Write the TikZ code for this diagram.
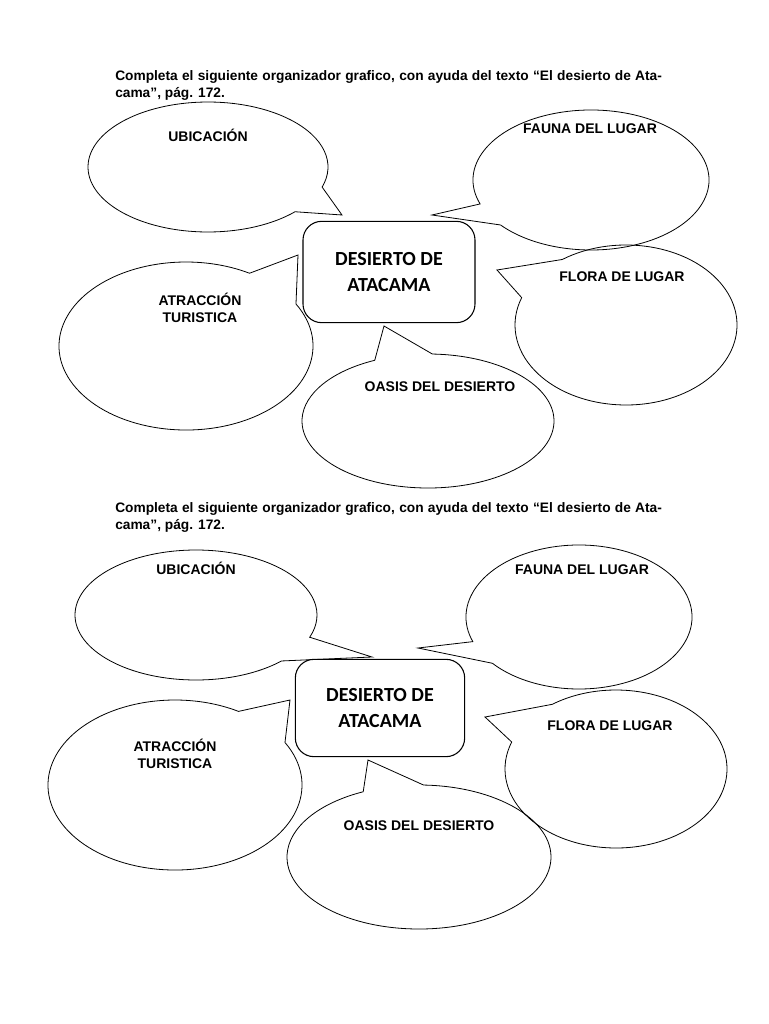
\documentclass[tikz,border=0pt]{standalone}
\usepackage{fontspec}
\setmainfont{Liberation Sans}
\newfontfamily\calfont{Carlito}
\begin{document}
\begin{tikzpicture}[x=0.75pt,y=-0.75pt,
  lab/.style={font=\bfseries\fontsize{10.5}{12.5}\selectfont,align=center,inner sep=0pt},
  ttl/.style={font=\bfseries\fontsize{10.3}{12.8}\selectfont,text width=410pt,align=justify,anchor=north west,inner sep=0pt},
  cbox/.style={draw,fill=white,rounded corners=14pt,line width=0.8pt,font=\calfont\bfseries\fontsize{15}{19}\selectfont,align=center,inner sep=0pt},
  bub/.style={draw,line width=0.6pt}]
\useasboundingbox (0,0) rectangle (768,1024);
\newcommand\bubble[8]{\draw[bub] (#1,#2) ++(#5:#3 and #4) arc[start angle=#5,end angle=#6,x radius=#3,y radius=#4] -- (#7,#8) -- cycle;}
% ---------- top ----------
\node[ttl] (t1) at (115,70) {Completa el siguiente organizador grafico, con ayuda del texto “El desierto de Atacama”, pág. 172.};
\bubble{208}{167}{120}{65}{43.5}{378}{342}{215}
\bubble{591}{180}{118}{70}{160}{500}{432}{215}
\bubble{186}{346}{127}{84}{-30}{300}{298}{255}
\bubble{626}{325}{111}{80}{235}{560}{497}{270}
\bubble{428}{421}{126}{67}{272}{605}{384}{326}
\node[cbox,minimum width=129pt,minimum height=76pt] (c1) at (389,272) {DESIERTO DE\\ATACAMA};
\node[lab] (u1) at (208,135) {UBICACIÓN};
\node[lab] (f1) at (590,129) {FAUNA DEL LUGAR};
\node[lab] (a1) at (200,308) {ATRACCIÓN\\TURISTICA};
\node[lab] (fl1) at (622,277) {FLORA DE LUGAR};
\node[lab] (o1) at (440,387) {OASIS DEL DESIERTO};
% ---------- bottom ----------
\node[ttl] (t2) at (115,502) {Completa el siguiente organizador grafico, con ayuda del texto “El desierto de Atacama”, pág. 172.};
\bubble{196}{615}{121}{65}{45}{380}{372}{657}
\bubble{579}{617}{113}{72}{160}{500}{418}{648}
\bubble{175}{785}{127}{85}{-30}{300}{290}{700}
\bubble{616}{769}{111}{79}{235}{560}{485}{717}
\bubble{419}{857}{132}{72}{272}{605}{368}{760}
\node[cbox,minimum width=127pt,minimum height=73pt] (c2) at (380,708) {DESIERTO DE\\ATACAMA};
\node[lab] (u2) at (196,568) {UBICACIÓN};
\node[lab] (f2) at (582,570) {FAUNA DEL LUGAR};
\node[lab] (a2) at (175,754) {ATRACCIÓN\\TURISTICA};
\node[lab] (fl2) at (610,726) {FLORA DE LUGAR};
\node[lab] (o2) at (419,826) {OASIS DEL DESIERTO};
\end{tikzpicture}
\end{document}
